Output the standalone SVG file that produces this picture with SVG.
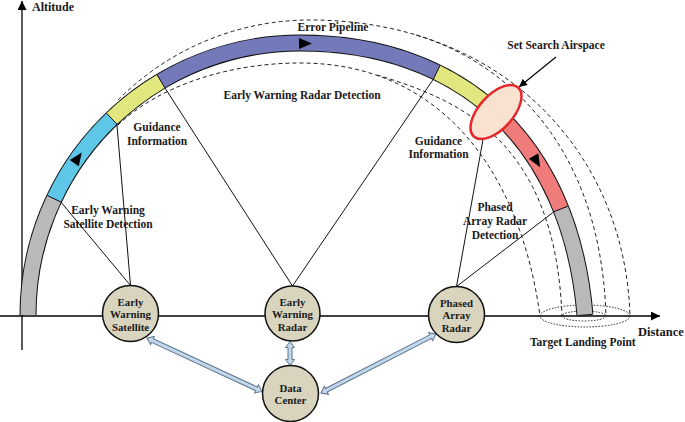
<svg xmlns="http://www.w3.org/2000/svg" xmlns:xlink="http://www.w3.org/1999/xlink" width="685" height="422" viewBox="0 0 685 422">
<style>
text{font-family:"Liberation Serif","Times New Roman",serif;font-weight:bold;fill:#1a1a1a;font-size:11.5px}
.mid{text-anchor:middle}
.dash{fill:none;stroke:#222;stroke-width:1;stroke-dasharray:4 3}
.dot{fill:none;stroke:#222;stroke-width:1;stroke-dasharray:1.5 1.5}
.seg{fill:none;stroke-width:15;stroke-linecap:butt}
.thin{stroke:#111;stroke-width:1;fill:none}
.node circle{fill:#d8d4bd;stroke:#111;stroke-width:1.5}
.node text{font-size:10.8px}
.dbl{fill:#c4d7ea;stroke:#5d7590;stroke-width:1}
</style>
<defs>
<marker id="ax" viewBox="0 0 10 10" refX="10" refY="5" markerWidth="10" markerHeight="9" orient="auto" markerUnits="userSpaceOnUse"><path d="M0,0 L10,5 L0,10 z" fill="#000"/></marker>
<marker id="ax2" viewBox="0 0 10 10" refX="10" refY="5" markerWidth="9" markerHeight="8" orient="auto" markerUnits="userSpaceOnUse"><path d="M0,0 L10,5 L0,10 z" fill="#000"/></marker>
<path id="tri" d="M7,0 L-6,-5.5 L-6,5.5 Z" fill="#000"/>
</defs>

<!-- axes -->
<g id="axes">
<line x1="22" y1="350" x2="22" y2="1" stroke="#000" stroke-width="1.3" marker-end="url(#ax)"/>
<line x1="0" y1="316" x2="660" y2="316" stroke="#000" stroke-width="1.3" marker-end="url(#ax)"/>
<text x="32" y="11" style="font-size:12px">Altitude</text>
<text x="638" y="336" style="font-size:12.5px">Distance</text>
</g>

<!-- dashed error pipeline / search airspace -->
<g id="pipeline">
<path class="dash" d="M118,100 A270.4,270.4 0 0 1 310,20 C500,20 625,150 630,316"/>
<path class="dash" d="M416,35 C490,57 600,130 606,316"/>
<path class="dash" d="M118,125 C160,85 230,63 300,63 C440,63 520,170 540,316"/>
<path class="dash" d="M377,75 C460,100 555,140 562,316"/>
<ellipse class="dot" cx="585" cy="316" rx="45" ry="11"/>
<ellipse class="dot" cx="584" cy="316" rx="22" ry="5"/>
</g>

<!-- trajectory band -->
<g id="trajectory">
<path d="M28,315 A272,272 0 0 1 300,43 C460,43 570,140 585,315" fill="none" stroke="#111" stroke-width="17"/>
<path class="seg" stroke="#b9b9b9" d="M28,315 A272,272 0 0 1 54.1,198.7"/>
<path class="seg" stroke="#5ec6e6" d="M54.1,198.7 A272,272 0 0 1 111.7,118.7"/>
<path class="seg" stroke="#e2e67e" d="M111.7,118.7 A272,272 0 0 1 160.9,81.2"/>
<path class="seg" stroke="#7379b9" d="M160.9,81.2 A272,272 0 0 1 300,43 C351.2,43 397.28,52.93 436.76,72.17"/>
<path class="seg" stroke="#e2e67e" d="M436.76,72.17 C458.97,83 479.1,96.77 496.87,113.37"/>
<path class="seg" stroke="#ef7b7b" d="M496.87,113.37 C524.03,138.74 545.71,170.73 560.96,208.94"/>
<path class="seg" stroke="#b9b9b9" d="M560.96,208.94 C573.44,240.2 581.63,275.63 585,315"/>
<line class="thin" x1="60.9" y1="202" x2="47.3" y2="195.5"/>
<line class="thin" x1="116.9" y1="124.1" x2="106.6" y2="113.3"/>
<line class="thin" x1="164.8" y1="87.7" x2="157.1" y2="74.8" stroke="#555"/>
<line class="thin" x1="433.5" y1="78.9" x2="440" y2="65.4"/>
<line class="thin" x1="567.9" y1="206.2" x2="554" y2="211.7"/>
<line class="thin" x1="577.5" y1="315.6" x2="592.5" y2="314.4"/>
<use xlink:href="#tri" transform="translate(77.7,158.2) rotate(-54.8)"/>
<use xlink:href="#tri" transform="translate(305,43.5)"/>
<use xlink:href="#tri" transform="translate(536.6,161.2) rotate(60)"/>
</g>

<!-- labels -->
<g id="labels">
<text class="mid" x="333" y="31">Error Pipeline</text>
<text class="mid" x="302" y="99">Early Warning Radar Detection</text>
<text class="mid" x="157" y="131">Guidance</text>
<text class="mid" x="157" y="145">Information</text>
<text class="mid" x="438.5" y="145">Guidance</text>
<text class="mid" x="438.5" y="158">Information</text>
<text class="mid" x="108" y="214">Early Warning</text>
<text class="mid" x="108" y="228">Satellite Detection</text>
<text class="mid" x="495" y="211">Phased</text>
<text class="mid" x="495" y="225">Array Radar</text>
<text class="mid" x="495" y="239">Detection</text>
<text x="530" y="346">Target Landing Point</text>
<text class="mid" x="556" y="48.5">Set Search Airspace</text>
</g>

<!-- connectors -->
<g id="connectors">
<line class="thin" x1="130.5" y1="285.5" x2="60.9" y2="202"/>
<line class="thin" x1="130.5" y1="285.5" x2="116.9" y2="124.1"/>
<line class="thin" x1="292.5" y1="286" x2="164.8" y2="87.7"/>
<line class="thin" x1="292.5" y1="286" x2="433.5" y2="78.9"/>
<line class="thin" x1="456.5" y1="286.5" x2="484" y2="134"/>
<line class="thin" x1="456.5" y1="286.5" x2="554" y2="211.7"/>
<line x1="556" y1="57" x2="519" y2="87" stroke="#000" stroke-width="1.2" marker-end="url(#ax2)"/>
<polygon class="dbl" transform="translate(147,338) rotate(24.9)" points="0,0 6,-4.5 6,-2 120.8,-2 120.8,-4.5 126.8,0 120.8,4.5 120.8,2 6,2 6,4.5"/>
<polygon class="dbl" transform="translate(290,341.5) rotate(90)" points="0,0 6,-4.5 6,-2 18,-2 18,-4.5 24,0 18,4.5 18,2 6,2 6,4.5"/>
<polygon class="dbl" transform="translate(321,393) rotate(-27.2)" points="0,0 6,-4.5 6,-2 123.3,-2 123.3,-4.5 129.3,0 123.3,4.5 123.3,2 6,2 6,4.5"/>
</g>

<g id="search-airspace">
<ellipse cx="496" cy="112" rx="33" ry="17" transform="rotate(-48 496 112)" fill="#f9e2d0" stroke="#e5262a" stroke-width="2.5"/>
</g>

<g id="node-satellite" class="node">
<circle cx="130.5" cy="313.5" r="28"/>
<text class="mid" x="130.5" y="305.5">Early</text>
<text class="mid" x="130.5" y="318">Warning</text>
<text class="mid" x="130.5" y="330.5">Satellite</text>
</g>
<g id="node-radar" class="node">
<circle cx="292.5" cy="313.5" r="27.5"/>
<text class="mid" x="292.5" y="305.5">Early</text>
<text class="mid" x="292.5" y="318">Warning</text>
<text class="mid" x="292.5" y="330.5">Radar</text>
</g>
<g id="node-phased" class="node">
<circle cx="456.5" cy="314.5" r="28"/>
<text class="mid" x="456.5" y="306.5">Phased</text>
<text class="mid" x="456.5" y="319">Array</text>
<text class="mid" x="456.5" y="331.5">Radar</text>
</g>
<g id="node-datacenter" class="node">
<circle cx="290.5" cy="393.5" r="28"/>
<text class="mid" x="290.5" y="391.5">Data</text>
<text class="mid" x="290.5" y="404">Center</text>
</g>
</svg>
